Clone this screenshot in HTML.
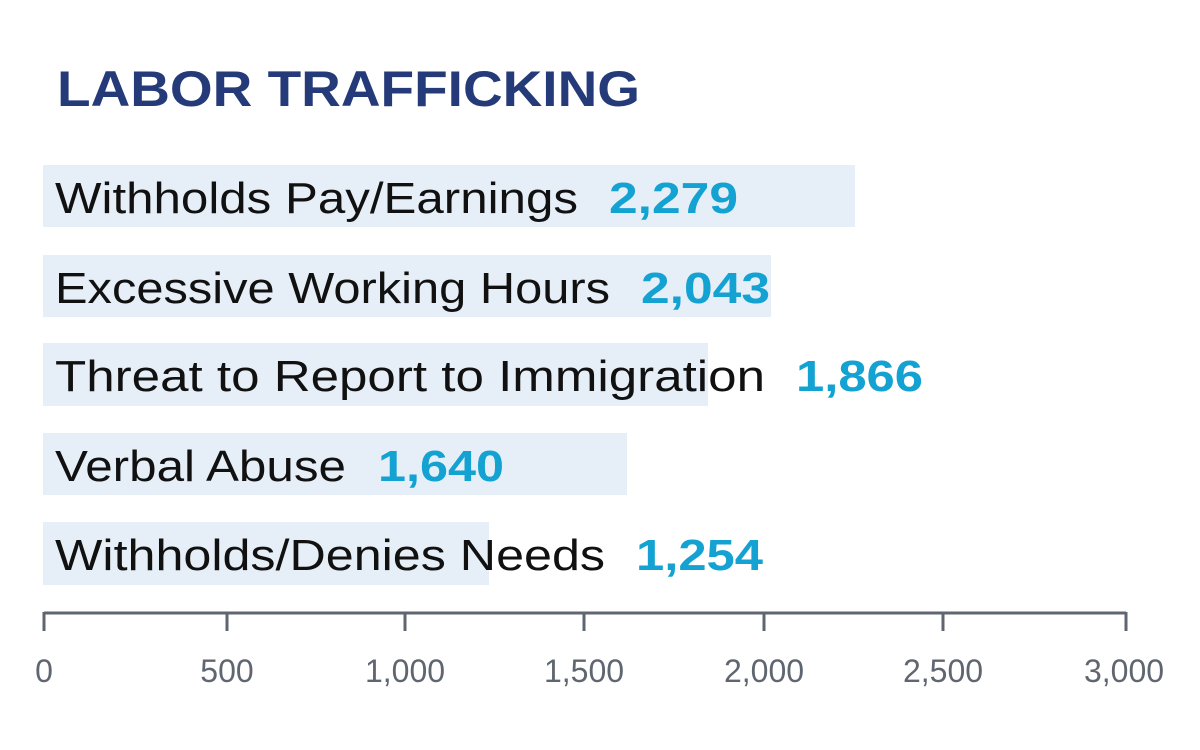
<!DOCTYPE html>
<html><head><meta charset="utf-8"><style>
html,body{margin:0;padding:0;background:#fff;}
svg{display:block;font-family:"Liberation Sans",sans-serif;}
</style></head><body>
<svg width="1200" height="750" viewBox="0 0 1200 750">
<text x="57" y="106" font-size="50" font-weight="bold" fill="#253a78" textLength="583" lengthAdjust="spacingAndGlyphs">LABOR TRAFFICKING</text>
<g fill="#e6eff7">
<rect x="43" y="165" width="812" height="62"/>
<rect x="43" y="255" width="728" height="62"/>
<rect x="43" y="343" width="665" height="63"/>
<rect x="43" y="433" width="584" height="62"/>
<rect x="43" y="522" width="446" height="63"/>
</g>
<g font-size="44" fill="#111">
<text x="55" y="213" textLength="523" lengthAdjust="spacingAndGlyphs">Withholds Pay/Earnings</text>
<text x="55" y="303" textLength="555" lengthAdjust="spacingAndGlyphs">Excessive Working Hours</text>
<text x="55" y="391" textLength="710" lengthAdjust="spacingAndGlyphs">Threat to Report to Immigration</text>
<text x="55" y="481" textLength="291" lengthAdjust="spacingAndGlyphs">Verbal Abuse</text>
<text x="55" y="570" textLength="550" lengthAdjust="spacingAndGlyphs">Withholds/Denies Needs</text>
</g>
<g font-size="44" font-weight="bold" fill="#13a2d1">
<text x="609" y="213" textLength="129" lengthAdjust="spacingAndGlyphs">2,279</text>
<text x="641" y="303" textLength="129" lengthAdjust="spacingAndGlyphs">2,043</text>
<text x="796" y="391" textLength="127" lengthAdjust="spacingAndGlyphs">1,866</text>
<text x="378" y="481" textLength="126" lengthAdjust="spacingAndGlyphs">1,640</text>
<text x="636" y="570" textLength="127" lengthAdjust="spacingAndGlyphs">1,254</text>
</g>
<g stroke="#5f6670" stroke-width="3">
<line x1="44" y1="613" x2="1126" y2="613"/>
<line x1="44" y1="612" x2="44" y2="631"/>
<line x1="227" y1="612" x2="227" y2="631"/>
<line x1="405" y1="612" x2="405" y2="631"/>
<line x1="584" y1="612" x2="584" y2="631"/>
<line x1="764" y1="612" x2="764" y2="631"/>
<line x1="943" y1="612" x2="943" y2="631"/>
<line x1="1126" y1="612" x2="1126" y2="631"/>
</g>
<g font-size="32" fill="#5f6670" text-anchor="middle">
<text x="44" y="682">0</text>
<text x="227" y="682">500</text>
<text x="405" y="682">1,000</text>
<text x="584" y="682">1,500</text>
<text x="764" y="682">2,000</text>
<text x="943" y="682">2,500</text>
<text x="1124" y="682">3,000</text>
</g>
</svg>
</body></html>
